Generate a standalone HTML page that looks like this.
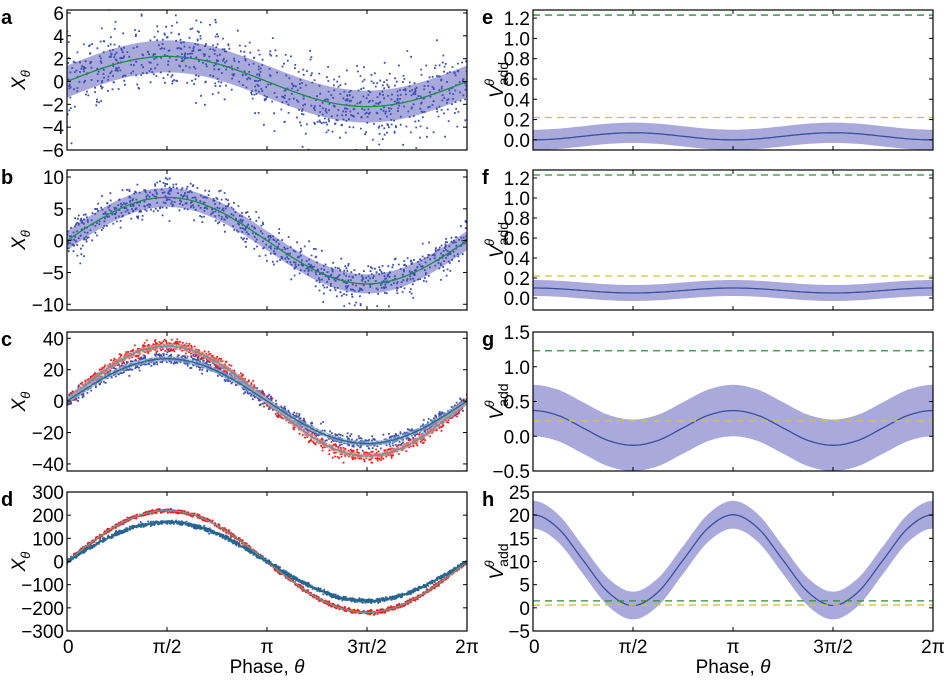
<!DOCTYPE html>
<html><head><meta charset="utf-8"><style>
body{margin:0;background:#fff;width:946px;height:683px;overflow:hidden;font-family:"Liberation Sans",sans-serif}
svg text{font-family:"Liberation Sans","DejaVu Sans",sans-serif}
</style></head><body>
<svg id="fig" width="946" height="683" viewBox="0 0 946 683" xmlns="http://www.w3.org/2000/svg"></svg>
<script>
// phase samples every pi/8 (17 points, 0..2pi)
const phaseLabels = ["0","\u03c0/2","\u03c0","3\u03c0/2","2\u03c0"];
const meanA = [0,0.84,1.56,2.03,2.2,2.03,1.56,0.84,0,-0.84,-1.56,-2.03,-2.2,-2.03,-1.56,-0.84,0];
const meanB = [0,2.6,4.8,6.28,6.8,6.28,4.8,2.6,0,-2.6,-4.8,-6.28,-6.8,-6.28,-4.8,-2.6,0];
const meanCred = [0,13.4,24.7,32.3,35,32.3,24.7,13.4,0,-13.4,-24.7,-32.3,-35,-32.3,-24.7,-13.4,0];
const meanCblue = [0,10.3,19.1,24.9,27,24.9,19.1,10.3,0,-10.3,-19.1,-24.9,-27,-24.9,-19.1,-10.3,0];
const meanDred = [0,84,156,203,220,203,156,84,0,-84,-156,-203,-220,-203,-156,-84,0];
const meanDblue = [0,65,120,157,170,157,120,65,0,-65,-120,-157,-170,-157,-120,-65,0];
const meanE = [0.0,0.01,0.035,0.06,0.07,0.06,0.035,0.01,0.0,0.01,0.035,0.06,0.07,0.06,0.035,0.01,0.0];
const meanF = [0.1,0.093,0.075,0.057,0.05,0.057,0.075,0.093,0.1,0.093,0.075,0.057,0.05,0.057,0.075,0.093,0.1];
const meanG = [0.37,0.30,0.12,-0.06,-0.13,-0.06,0.12,0.30,0.37,0.30,0.12,-0.06,-0.13,-0.06,0.12,0.30,0.37];
const meanH = [20.1,17.2,10.3,3.4,0.5,3.4,10.3,17.2,20.1,17.2,10.3,3.4,0.5,3.4,10.3,17.2,20.1];
const bandA = 1.4, bandB = 1.5, bandE = 0.1, bandF = 0.08, bandG = 0.37, bandH = 3;
const noiseA = 1.6, noiseB = 1.5, noiseC = 2.0, noiseD = 4;
const dashE = [1.23,0.22], dashF = [1.23,0.22], dashG = [1.23,0.22], dashH = [1.5,0.6];

const NS="http://www.w3.org/2000/svg";
const svg=document.getElementById('fig');
function el(tag,attrs,parent){const e=document.createElementNS(NS,tag);for(const k in attrs)e.setAttribute(k,attrs[k]);(parent||svg).appendChild(e);return e;}
let seed=12345;function rnd(){seed=(seed*1103515245+12345)%2147483648;return seed/2147483648;}
function gauss(){let u=rnd()||1e-9,v=rnd();return Math.sqrt(-2*Math.log(u))*Math.cos(2*Math.PI*v);}
// periodic Catmull-Rom spline through the samples
function interp(arr,t){const n=arr.length-1;const f=t*n;const i=Math.min(Math.floor(f),n-1);const r=f-i;
  const g=k=>arr[((k%n)+n)%n];
  const p0=g(i-1),p1=g(i),p2=g(i+1),p3=g(i+2);
  return 0.5*((2*p1)+(-p0+p2)*r+(2*p0-5*p1+4*p2-p3)*r*r+(-p0+3*p1-3*p2+p3)*r*r*r);}

function panel(cfg){
  const g=el('g',{});
  
  
  const {x0,x1,y0,y1,ymin,ymax}=cfg;
  const sx=t=>x0+t*(x1-x0);
  const sy=v=>y1-(v-ymin)/(ymax-ymin)*(y1-y0);
  const clip='clip'+cfg.name;
  const cp=el('clipPath',{id:clip},g);el('rect',{x:x0,y:y0,width:x1-x0,height:y1-y0},cp);
  const inner=el('g',{'clip-path':'url(#'+clip+')'},g);
  const N=200;
  (cfg.series||[]).forEach(s=>{
    if(s.band!==undefined){
      let up=[],dn=[];
      for(let i=0;i<=N;i++){const t=i/N,m=interp(s.mean,t);up.push(sx(t).toFixed(1)+','+sy(m+s.band).toFixed(1));dn.unshift(sx(t).toFixed(1)+','+sy(m-s.band).toFixed(1));}
      const b=el('polygon',{points:up.concat(dn).join(' '),fill:s.bandColor||'#a9a9dc'},inner);
      
      
    }
  });
  (cfg.series||[]).forEach(s=>{
    if(s.noise){
      let d='';
      for(let i=0;i<s.count;i++){const t=rnd();const v=interp(s.mean,t)+gauss()*s.noise;
        d+=`M${(sx(t)-0.9).toFixed(1)},${sy(v).toFixed(1)}h1.8`;}
      const p=el('path',{d:d,stroke:s.dotColor,'stroke-width':1.8,fill:'none'},inner);
      
      
    }
  });
  (cfg.series||[]).forEach(s=>{
    let pts=[];for(let i=0;i<=N;i++){const t=i/N;pts.push(sx(t).toFixed(1)+','+sy(interp(s.mean,t)).toFixed(1));}
    if(s.wide){const w=el('polyline',{points:pts.join(' '),fill:'none',stroke:s.wide,'stroke-width':5,opacity:0.6},inner);
      
      }
    const l=el('polyline',{points:pts.join(' '),fill:'none',stroke:s.lineColor,'stroke-width':1.3},inner);
    
    
  });
  (cfg.dashes||[]).forEach((v,i)=>{
    const d=el('line',{x1:x0,x2:x1,y1:sy(v),y2:sy(v),stroke:i==0?'#2e8b3e':'#c8c83c','stroke-width':1.3,'stroke-dasharray':'7,5'},inner);
    
    
  });
  const fr=el('rect',{x:x0,y:y0,width:x1-x0,height:y1-y0,fill:'none',stroke:'#000','stroke-width':1.2},g);
  
  
  for(let k=0;k<=4;k++){const x=sx(k/4);
    el('line',{x1:x,x2:x,y1:y0,y2:y0+4,stroke:'#000'},g);el('line',{x1:x,x2:x,y1:y1,y2:y1-4,stroke:'#000'},g);
    if(cfg.xlabels){const t=el('text',{x:k==0?x-4:x,y:y1+22,'font-size':19,'text-anchor':k==0?'start':'middle'},g);t.textContent=phaseLabels[k];
      
      }
  }
  cfg.yticks.forEach(v=>{const y=sy(v);
    el('line',{x1:x0,x2:x0+4,y1:y,y2:y,stroke:'#000'},g);el('line',{x1:x1,x2:x1-4,y1:y,y2:y,stroke:'#000'},g);
    const t=el('text',{x:x0-3,y:y+7,'font-size':19,'text-anchor':'end'},g);
    t.textContent=(cfg.fmt?cfg.fmt(v):String(v)).replace('-','\u2212');
    
    
  });
  const L=el('text',{y:y0+14,'font-size':20,'font-weight':'bold',x:cfg.letterX},g);L.textContent=cfg.letter;
  
  
  const yc=(y0+y1)/2;
  const yl=el('text',{transform:`translate(${cfg.ylabX},${yc}) rotate(-90)`,'font-size':19,'text-anchor':'middle'},g);
  
  
  if(cfg.right){yl.innerHTML='<tspan font-style="italic">V</tspan><tspan dy="5" font-size="14">add</tspan><tspan dx="-24" dy="-14" font-size="13" font-style="italic">\u03b8</tspan>';}
  else{yl.innerHTML='<tspan font-style="italic">X</tspan><tspan dy="5" font-size="13" font-style="italic">\u03b8</tspan>';}
}
const L0=67,L1=467,R0=533,R1=933;
panel({name:'panel-a',letter:'a',letterX:1,ylabX:25,x0:L0,x1:L1,y0:10,y1:150,ymin:-6,ymax:6.26,yticks:[-6,-4,-2,0,2,4,6],
  series:[{mean:meanA,band:bandA,noise:noiseA,count:900,dotColor:'#3a4fb0',lineColor:'#1f8a4c'}]});
panel({name:'panel-b',letter:'b',letterX:1,ylabX:25,x0:L0,x1:L1,y0:170,y1:310,ymin:-10.9,ymax:11.1,yticks:[-10,-5,0,5,10],
  series:[{mean:meanB,band:bandB,noise:noiseB,count:900,dotColor:'#3a4fb0',lineColor:'#1f8a4c'}]});
panel({name:'panel-c',letter:'c',letterX:1,ylabX:25,x0:L0,x1:L1,y0:332,y1:471,ymin:-44.5,ymax:44,yticks:[-40,-20,0,20,40],
  series:[{mean:meanCred,noise:noiseC,count:1300,dotColor:'#e8231e',lineColor:'#5a9a9a',wide:'#f0a0a0'},
          {mean:meanCblue,noise:noiseC,count:1300,dotColor:'#3a4fb0',lineColor:'#1f6e7e',wide:'#a0b0d8'}]});
panel({name:'panel-d',letter:'d',letterX:1,ylabX:25,x0:L0,x1:L1,y0:492,y1:631,ymin:-300,ymax:300,yticks:[-300,-200,-100,0,100,200,300],xlabels:true,
  series:[{mean:meanDred,noise:noiseD,count:1500,dotColor:'#e8231e',lineColor:'#6a9a9a'},
          {mean:meanDblue,noise:noiseD,count:1500,dotColor:'#2a5f9a',lineColor:'#1f6e7e'}]});
const f1=v=>v.toFixed(1);
panel({name:'panel-e',letter:'e',letterX:482,ylabX:503,right:true,x0:R0,x1:R1,y0:10,y1:150,ymin:-0.1,ymax:1.28,yticks:[0,0.2,0.4,0.6,0.8,1.0,1.2],fmt:f1,
  series:[{mean:meanE,band:bandE,lineColor:'#3a4fa0'}],dashes:dashE});
panel({name:'panel-f',letter:'f',letterX:482,ylabX:503,right:true,x0:R0,x1:R1,y0:170,y1:310,ymin:-0.12,ymax:1.28,yticks:[0,0.2,0.4,0.6,0.8,1.0,1.2],fmt:f1,
  series:[{mean:meanF,band:bandF,lineColor:'#3a4fa0'}],dashes:dashF});
panel({name:'panel-g',letter:'g',letterX:482,ylabX:503,right:true,x0:R0,x1:R1,y0:332,y1:471,ymin:-0.5,ymax:1.5,yticks:[-0.5,0,0.5,1.0,1.5],fmt:f1,
  series:[{mean:meanG,band:bandG,lineColor:'#3a4fa0'}],dashes:dashG});
panel({name:'panel-h',letter:'h',letterX:482,ylabX:503,right:true,x0:R0,x1:R1,y0:492,y1:631,ymin:-5,ymax:25,yticks:[-5,0,5,10,15,20,25],xlabels:true,
  series:[{mean:meanH,band:bandH,lineColor:'#3a4fa0'}],dashes:dashH});
[[267,'x-axis-title-left'],[733,'x-axis-title-right']].forEach(([x,n])=>{
  const t=el('text',{x:x,y:673,'font-size':19,'text-anchor':'middle'});
  t.innerHTML='Phase, <tspan font-style="italic">\u03b8</tspan>';
  
  
});
</script>
</body></html>
